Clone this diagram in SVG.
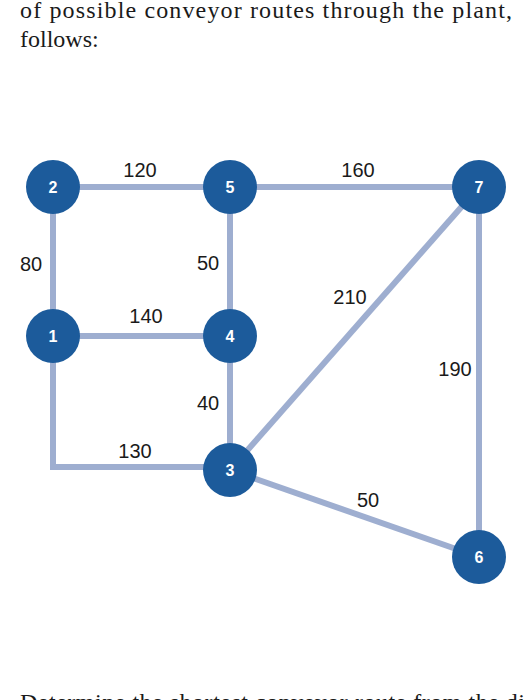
<svg xmlns="http://www.w3.org/2000/svg" width="525" height="700" viewBox="0 0 525 700">
<style>
.body{font-family:"Liberation Serif","Times New Roman",serif;font-size:24px;fill:#1a1a1a}
.edge{stroke:#9eaed0;stroke-width:6;fill:none;stroke-linejoin:miter}
.node circle{fill:#1c5b9b}
.node text{font-family:"Liberation Sans",Arial,sans-serif;font-weight:bold;font-size:16px;fill:#fff;text-anchor:middle}
.lbl{font-family:"Liberation Sans",Arial,sans-serif;font-size:20px;fill:#1a1a1a;text-anchor:middle}
</style>
<rect width="525" height="700" fill="#fff"/>
<text class="body" x="20" y="18" textLength="492" lengthAdjust="spacing">of possible conveyor routes through the plant,</text>
<text class="body" x="20" y="47">follows:</text>
<text class="body" x="20" y="710" textLength="505" lengthAdjust="spacing">Determine the shortest conveyor route from the di</text>
<g id="connectors">
<line class="edge" x1="53" y1="187" x2="230" y2="187"/>
<line class="edge" x1="230" y1="187" x2="479" y2="187"/>
<line class="edge" x1="53" y1="187" x2="53" y2="336"/>
<line class="edge" x1="230" y1="187" x2="230" y2="336"/>
<line class="edge" x1="53" y1="336" x2="230" y2="336"/>
<line class="edge" x1="230" y1="336" x2="230" y2="470"/>
<polyline class="edge" points="53,336 53,467 230,467"/>
<line class="edge" x1="230" y1="470" x2="479" y2="187"/>
<line class="edge" x1="230" y1="470" x2="479" y2="557"/>
<line class="edge" x1="479" y1="187" x2="479" y2="557"/>
<text class="lbl" x="140" y="177">120</text>
<text class="lbl" x="358" y="177">160</text>
<text class="lbl" x="31" y="271">80</text>
<text class="lbl" x="208" y="270">50</text>
<text class="lbl" x="350" y="304">210</text>
<text class="lbl" x="146" y="323">140</text>
<text class="lbl" x="208" y="410">40</text>
<text class="lbl" x="135" y="458">130</text>
<text class="lbl" x="455" y="376">190</text>
<text class="lbl" x="368" y="507">50</text>
</g>
<g id="n2" class="node"><circle cx="53" cy="187" r="27"/><text x="53" y="193">2</text></g>
<g id="n5" class="node"><circle cx="230" cy="187" r="27"/><text x="230" y="193">5</text></g>
<g id="n7" class="node"><circle cx="479" cy="187" r="27"/><text x="479" y="193">7</text></g>
<g id="n1" class="node"><circle cx="53" cy="336" r="27"/><text x="53" y="342">1</text></g>
<g id="n4" class="node"><circle cx="230" cy="336" r="27"/><text x="230" y="342">4</text></g>
<g id="n3" class="node"><circle cx="230" cy="470" r="27"/><text x="230" y="476">3</text></g>
<g id="n6" class="node"><circle cx="479" cy="557" r="27"/><text x="479" y="563">6</text></g>
</svg>
